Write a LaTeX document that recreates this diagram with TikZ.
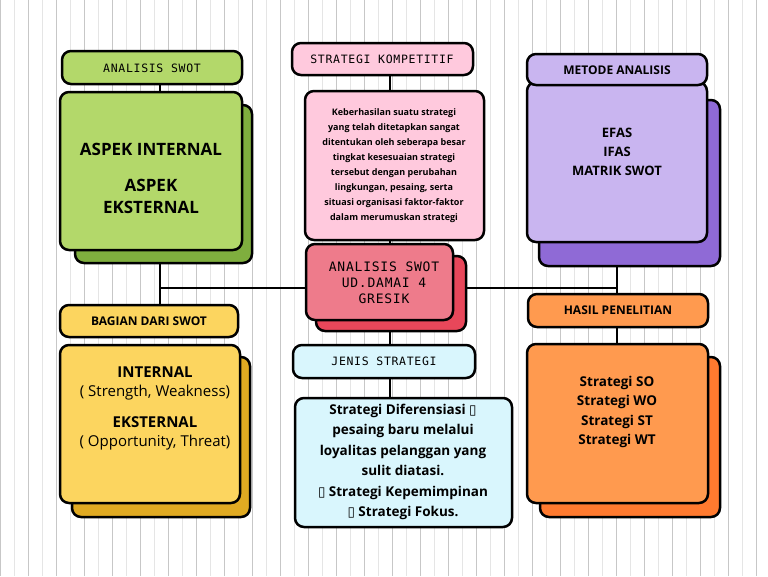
\documentclass[tikz,border=0pt]{standalone}
\usepackage{fontspec}
\setmainfont{Open Sans}
\newfontfamily\monof[LetterSpace=6]{DejaVu Sans Mono}
\newfontfamily\symf{DejaVu Sans}
\definecolor{gA}{HTML}{B3D86A}\definecolor{gB}{HTML}{7FAE3E}
\definecolor{pA}{HTML}{FFC9DD}
\definecolor{rA}{HTML}{EE7B8B}\definecolor{rB}{HTML}{E8475A}
\definecolor{vA}{HTML}{C9B5F0}\definecolor{vB}{HTML}{8F6AD6}
\definecolor{yA}{HTML}{FCD55F}\definecolor{yB}{HTML}{E0AA22}
\definecolor{oA}{HTML}{FF9A4F}\definecolor{oB}{HTML}{FF7A2F}
\definecolor{cA}{HTML}{D9F6FD}
\begin{document}
\begin{tikzpicture}[x=1pt,y=-1pt,
  bx/.style={draw=black,line width=2.5pt,rounded corners=9pt},
  ln/.style={line width=2.5pt},
  tx/.style={align=center,inner sep=0pt}]
\useasboundingbox (0,0) rectangle (768,576);
\fill[white] (0,0) rectangle (768,576);
\draw[black!10,line width=0.4pt,step=14] (0,0) grid (768,576);
\draw[black!22,line width=0.7pt,step=28] (0,0) grid (768,576);
\newcommand{\bb}{{\symf\char"25AF}}
% connectors
\coordinate (hl) at (160,288); \coordinate (hr) at (617,288);
\draw[ln] (hl) -- (hr);
\draw[ln] (160,84) -- (160,305);
\draw[ln] (390,75) -- (390,398);
\draw[ln] (617,85) -- (617,344);
% green
\draw[bx,fill=gB] (75,105) rectangle (252,263);
\draw[bx,fill=gA] (60,92) rectangle (242,250);
\node[tx,font=\bfseries\fontsize{17}{22}\selectfont] at (151,178) {ASPEK INTERNAL\\[14pt]ASPEK\\EKSTERNAL};
\draw[bx,fill=gA] (62,51) rectangle (242,84);
\node[tx,font=\monof\fontsize{11.5}{14}\selectfont] at (152,68) {ANALISIS SWOT};
% pink
\draw[bx,fill=pA] (305,91) rectangle (484,240);
\node[tx,font=\bfseries\fontsize{9}{15}\selectfont] at (394,166) {Keberhasilan suatu strategi\\yang telah ditetapkan sangat\\ditentukan oleh seberapa besar\\tingkat kesesuaian strategi\\tersebut dengan perubahan\\lingkungan, pesaing, serta\\situasi organisasi faktor-faktor\\dalam merumuskan strategi};
\draw[bx,fill=pA] (292,43) rectangle (473,75);
\node[tx,font=\monof\fontsize{11.5}{14}\selectfont] at (382,59) {STRATEGI KOMPETITIF};
% center
\draw[bx,fill=rB] (316,256) rectangle (466,331);
\draw[bx,fill=rA] (306,244) rectangle (453,320);
\node[tx,font=\monof\fontsize{13}{16}\selectfont] at (384,283) {ANALISIS SWOT\\UD.DAMAI 4\\GRESIK};
% purple
\draw[bx,fill=vB] (539,100) rectangle (720,266);
\draw[bx,fill=vA] (527,82) rectangle (707,242);
\node[tx,font=\bfseries\fontsize{13}{19}\selectfont] at (617,152) {EFAS\\IFAS\\MATRIK SWOT};
\draw[bx,fill=vA] (527,54) rectangle (707,85);
\node[tx,font=\bfseries\fontsize{12}{14}\selectfont] at (617,70) {METODE ANALISIS};
% yellow
\draw[bx,fill=yB] (72,357) rectangle (250,517);
\draw[bx,fill=yA] (60,345) rectangle (240,503);
\node[tx,font=\fontsize{15}{19}\selectfont] at (155,408) {\textbf{INTERNAL}\\( Strength, Weakness)\\[12pt]\textbf{EKSTERNAL}\\( Opportunity, Threat)};
\draw[bx,fill=yA] (60,305) rectangle (238,337);
\node[tx,font=\bfseries\fontsize{12}{14}\selectfont] at (149,321) {BAGIAN DARI SWOT};
% cyan
\draw[bx,fill=cA] (295,398) rectangle (512,527);
\node[tx,font=\bfseries\fontsize{13.5}{20.5}\selectfont] at (403,462) {Strategi Diferensiasi \bb\\pesaing baru melalui\\loyalitas pelanggan yang\\sulit diatasi.\\\bb\ Strategi Kepemimpinan\\\bb\ Strategi Fokus.};
\draw[bx,fill=cA] (293,345) rectangle (475,378);
\node[tx,font=\monof\fontsize{11.5}{14}\selectfont] at (384,361) {JENIS STRATEGI};
% orange
\draw[bx,fill=oB] (540,357) rectangle (720,517);
\draw[bx,fill=oA] (527,344) rectangle (708,503);
\node[tx,font=\bfseries\fontsize{13.5}{19.5}\selectfont] at (617,412) {Strategi SO\\Strategi WO\\Strategi ST\\Strategi WT};
\draw[bx,fill=oA] (528,294) rectangle (708,327);
\node[tx,font=\bfseries\fontsize{12}{14}\selectfont] at (618,310) {HASIL PENELITIAN};
\end{tikzpicture}
\end{document}
